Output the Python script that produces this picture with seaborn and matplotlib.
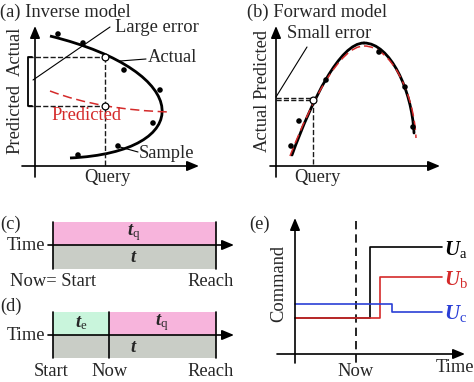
import numpy as np
import matplotlib
matplotlib.use('Agg')
import matplotlib.pyplot as plt
from matplotlib.path import Path
from matplotlib.patches import PathPatch
import seaborn as sns

sns.set_theme(style='white')
plt.rcParams['font.family'] = ['Liberation Serif', 'DejaVu Serif']
plt.rcParams['mathtext.fontset'] = 'custom'
plt.rcParams['mathtext.it'] = 'Liberation Serif:italic:bold'
plt.rcParams['mathtext.rm'] = 'Liberation Serif'
plt.rcParams['mathtext.bf'] = 'Liberation Serif:bold'

# ---- data (figure pixel space, y downwards) ----
# (a) inverse model
inv_sample_x = [58, 83, 124, 160, 153, 118, 78]
inv_sample_y = [34, 43, 70, 90, 123, 146, 155]
inv_actual_ctrl = [(50, 36), (196, 72), (196, 152), (70, 158)]
inv_pred_ctrl = [(50, 91), (100, 110), (170, 112)]
inv_query = 105
inv_actual_val = 57
inv_pred_val = 106

# (b) forward model: rising and falling halves meeting at the peak
fwd_sample_x = [291, 299, 326, 379, 405, 413]
fwd_sample_y = [146, 121, 80, 52, 87, 127]
fwd_actual_rise = [(292, 155), (312, 100), (340, 43), (364, 43)]
fwd_actual_fall = [(364, 43), (390, 43), (412, 90), (414, 133)]
fwd_pred_rise = [(290, 156), (311, 102), (340, 46), (364, 46)]
fwd_pred_fall = [(364, 46), (391, 46), (414, 93), (416, 138)]
fwd_query = 313
fwd_actual_val = 98
fwd_pred_val = 100

# (c), (d) time bars
bar_start, bar_now_d, bar_reach = 53, 109, 216
pink = '#f7b4dc'
grey = '#c9cdc6'
green = '#c9f5dc'

# (e) commands
cmd_time_a = [295, 370, 370, 442]
cmd_val_a = [318, 318, 247, 247]
cmd_time_b = [295, 380, 380, 442]
cmd_val_b = [318, 318, 277, 277]
cmd_time_c = [295, 392, 392, 442]
cmd_val_c = [304, 304, 312, 312]
now_e = 356

red = '#d42a2a'
blue = '#2b3fd6'

fig = plt.figure(figsize=(4.74, 3.82), dpi=100)
ax = fig.add_axes([0, 0, 1, 1])
ax.set_xlim(0, 474)
ax.set_ylim(382, 0)
ax.axis('off')

FS = 13.3


def arrow(x0, y0, x1, y1):
    ax.annotate('', xy=(x1, y1), xytext=(x0, y0),
                arrowprops=dict(arrowstyle='-|>,head_length=0.6,head_width=0.25',
                                color='black', lw=1.2, shrinkA=0, shrinkB=0))


def bezier(pts, **kw):
    codes = [Path.MOVETO] + ([Path.CURVE4] * 3 if len(pts) == 4 else [Path.CURVE3] * 2)
    ax.add_patch(PathPatch(Path(pts, codes), facecolor='none', **kw))


def leader(x0, y0, x1, y1):
    ax.plot([x0, x1], [y0, y1], color='black', lw=0.8)


# ---------------- (a) ----------------
ax.text(0, 12, '(a) Inverse model', fontsize=FS, va='center', ha='left')
arrow(35, 177, 35, 26)
arrow(22, 166, 199, 166)
ax.plot([28, inv_query], [inv_actual_val] * 2, 'k--', lw=1)
ax.plot([28, inv_query], [inv_pred_val] * 2, 'k--', lw=1)
ax.plot([inv_query] * 2, [inv_actual_val, 166], 'k--', lw=1)
ax.plot([32, 28, 28, 32], [inv_actual_val, inv_actual_val, inv_pred_val, inv_pred_val],
        color='black', lw=1.3)
bezier(inv_actual_ctrl, edgecolor='black', lw=2)
bezier(inv_pred_ctrl, edgecolor=red, lw=1.1, linestyle=(0, (6, 3)))
sns.scatterplot(x=inv_sample_x, y=inv_sample_y, color='black', s=16, ax=ax,
                edgecolor='none', zorder=5)
ax.scatter([inv_query, inv_query], [inv_actual_val, inv_pred_val], s=24,
           facecolor='white', edgecolor='black', lw=0.9, zorder=6)
ax.text(15, 51, 'Actual', rotation=90, fontsize=FS, ha='center', va='center')
ax.text(15, 119, 'Predicted', rotation=90, fontsize=FS, ha='center', va='center')
ax.text(115, 27, 'Large error', fontsize=FS, ha='left', va='center')
leader(110, 27, 33, 80)
ax.text(148, 58, 'Actual', fontsize=FS, ha='left', va='center')
leader(120, 61, 146, 59)
ax.text(51, 115, 'Predicted', fontsize=FS, ha='left', va='center', color=red)
ax.text(139, 153, 'Sample', fontsize=FS, ha='left', va='center')
leader(120, 147, 138, 152)
ax.text(107, 177, 'Query', fontsize=FS, ha='center', va='center')

# ---------------- (b) ----------------
ax.text(247, 12, '(b) Forward model', fontsize=FS, va='center', ha='left')
arrow(276, 177, 276, 26)
arrow(270, 166, 440, 166)
ax.plot([276, fwd_query], [fwd_actual_val] * 2, 'k--', lw=1)
ax.plot([276, fwd_query], [fwd_pred_val] * 2, 'k--', lw=1)
ax.plot([fwd_query] * 2, [fwd_pred_val, 166], 'k--', lw=1)
for seg in (fwd_actual_rise, fwd_actual_fall):
    bezier(seg, edgecolor='black', lw=2, capstyle='round')
for seg in (fwd_pred_rise, fwd_pred_fall):
    bezier(seg, edgecolor=red, lw=1.1, linestyle=(0, (6, 3)))
sns.scatterplot(x=fwd_sample_x, y=fwd_sample_y, color='black', s=16, ax=ax,
                edgecolor='none', zorder=5)
ax.scatter([fwd_query], [fwd_pred_val], s=24, facecolor='white',
           edgecolor='black', lw=0.9, zorder=6)
ax.text(262, 127, 'Actual', rotation=90, fontsize=FS, ha='center', va='center')
ax.text(262, 64, 'Predicted', rotation=90, fontsize=FS, ha='center', va='center')
ax.text(329, 33, 'Small error', fontsize=FS, ha='center', va='center')
leader(307, 47, 276, 97)
ax.text(317, 177, 'Query', fontsize=FS, ha='center', va='center')

# ---------------- (c) ----------------
ax.fill_between([bar_start, bar_reach], 222, 245, color=pink, lw=0)
ax.fill_between([bar_start, bar_reach], 245, 269, color=grey, lw=0)
for xv in [bar_start, bar_reach]:
    ax.plot([xv, xv], [222, 269], color='black', lw=1.2)
arrow(48, 245, 234, 245)
ax.text(0, 224, '(c)', fontsize=FS, ha='left', va='center')
ax.text(45, 245, 'Time', fontsize=FS, ha='right', va='center')
ax.text(134, 233, r'$t_\mathrm{q}$', fontsize=FS, ha='center', va='center')
ax.text(134, 257, r'$t$', fontsize=FS, ha='center', va='center')
ax.text(10, 281, 'Now= Start', fontsize=FS, ha='left', va='center')
ax.text(234, 281, 'Reach', fontsize=FS, ha='right', va='center')

# ---------------- (d) ----------------
ax.fill_between([bar_start, bar_now_d], 312, 335, color=green, lw=0)
ax.fill_between([bar_now_d, bar_reach], 312, 335, color=pink, lw=0)
ax.fill_between([bar_start, bar_reach], 335, 358, color=grey, lw=0)
for xv in [bar_start, bar_now_d, bar_reach]:
    ax.plot([xv, xv], [312, 358], color='black', lw=1.2)
arrow(48, 335, 234, 335)
ax.text(0, 306, '(d)', fontsize=FS, ha='left', va='center')
ax.text(45, 335, 'Time', fontsize=FS, ha='right', va='center')
ax.text(81, 323, r'$t_\mathrm{e}$', fontsize=FS, ha='center', va='center')
ax.text(162, 323, r'$t_\mathrm{q}$', fontsize=FS, ha='center', va='center')
ax.text(134, 347, r'$t$', fontsize=FS, ha='center', va='center')
ax.text(51, 371, 'Start', fontsize=FS, ha='center', va='center')
ax.text(110, 371, 'Now', fontsize=FS, ha='center', va='center')
ax.text(234, 371, 'Reach', fontsize=FS, ha='right', va='center')

# ---------------- (e) ----------------
arrow(295, 363, 295, 218)
arrow(277, 354, 465, 354)
ax.plot([now_e, now_e], [221, 363], color='black', lw=1.2, linestyle=(0, (5, 3)))
ax.plot(cmd_time_a, cmd_val_a, color='black', lw=1.2)
ax.plot(cmd_time_b, cmd_val_b, color=red, lw=1.2)
ax.plot(cmd_time_c, cmd_val_c, color=blue, lw=1.2)
ax.text(260, 224, '(e)', fontsize=FS, ha='center', va='center')
ax.text(279, 283, 'Command', rotation=90, fontsize=FS, ha='center', va='center')
ax.text(356, 372, 'Now', fontsize=FS, ha='center', va='center')
ax.text(474, 367, 'Time', fontsize=FS, ha='right', va='center')
ax.text(444, 249, r'$U_\mathrm{a}$', fontsize=15, ha='left', va='center', color='black')
ax.text(444, 279, r'$U_\mathrm{b}$', fontsize=15, ha='left', va='center', color=red)
ax.text(444, 314, r'$U_\mathrm{c}$', fontsize=15, ha='left', va='center', color=blue)

fig.savefig('out.png', dpi=100)
